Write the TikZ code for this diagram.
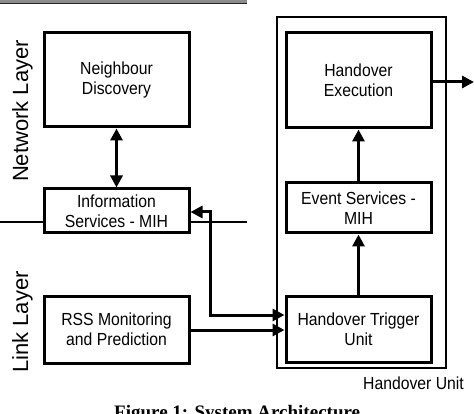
\documentclass[tikz,border=0pt]{standalone}
\usepackage{fontspec}
\setmainfont{Liberation Sans}
\newfontfamily\boxfont{Liberation Sans}[FakeStretch=0.9]
\newfontfamily\capfont{Liberation Serif}
\usetikzlibrary{arrows.meta,calc}
\begin{document}
\begin{tikzpicture}[x=1pt,y=-1pt,
  box/.style={draw, line width=3pt, align=center, inner sep=0pt,
    font=\boxfont\fontsize{17.5}{20}\selectfont},
  arr/.style={line width=3pt, -{Triangle[length=12pt,width=12pt]}},
  darr/.style={line width=3pt, {Triangle[length=12pt,width=12pt]}-{Triangle[length=12pt,width=12pt]}},
  layerlbl/.style={rotate=90, anchor=base, inner sep=0pt, font=\fontsize{22}{26}\selectfont},
  divider/.style={line width=2pt}]
\useasboundingbox (0,0) rectangle (474,414);
% top bar
\fill[black!45] (0,0) rectangle (247,3);
\draw[line width=1.5pt, black!85] (0,3.5) -- (247,3.5);
% outer handover unit
\node[draw, line width=2pt, minimum width=169pt, minimum height=351pt, inner sep=0pt] (hu) at (361.5,192.5) {};
\node[anchor=base east, inner sep=0pt, font=\boxfont\fontsize{17.5}{20}\selectfont] (hulbl) at (464,389) {Handover Unit};
% boxes
\node[box, minimum width=145pt, minimum height=94pt] (nd) at (116.5,80) {Neighbour\\Discovery};
\node[box, minimum width=145pt, minimum height=44pt] (is) at (116.5,211) {Information\\Services - MIH};
\node[box, minimum width=145pt, minimum height=67pt] (rss) at (116.5,329.5) {RSS Monitoring\\and Prediction};
\node[box, minimum width=145pt, minimum height=95pt] (he) at (358.5,80.5) {Handover\\Execution};
\node[box, minimum width=145pt, minimum height=50pt] (es) at (358.5,208) {Event Services -\\MIH};
\node[box, minimum width=145pt, minimum height=66pt] (htu) at (358.5,329) {Handover Trigger\\Unit};
% layer labels
\node[layerlbl] (nl) at (28,111) {Network Layer};
\node[layerlbl] (ll) at (28,322) {Link Layer};
% divider
\draw[divider] (0,222) -- (is.west |- 0,222);
\draw[divider] (is.east |- 0,222) -- (247,222);
% connectors
\coordinate (out) at (474,82);
\draw[darr] (nd.south) -- (is.north);
\draw[arr] (es.north) -- (he.south);
\draw[arr] (htu.north) -- (es.south);
\draw[arr] (he.east |- out) -- (out);
\draw[darr, line join=miter] (is.east |- 0,212) -| (210,315) -- (htu.west |- 0,315);
\draw[arr] (rss.east |- 0,330) -- (htu.west |- 0,330);
% caption (cut off by the picture's lower edge)
\node[anchor=base west, inner sep=0pt, font=\capfont\bfseries\fontsize{19}{22}\selectfont] (cap) at (114,418.5) {Figure 1: System Architecture};
\end{tikzpicture}
\end{document}
